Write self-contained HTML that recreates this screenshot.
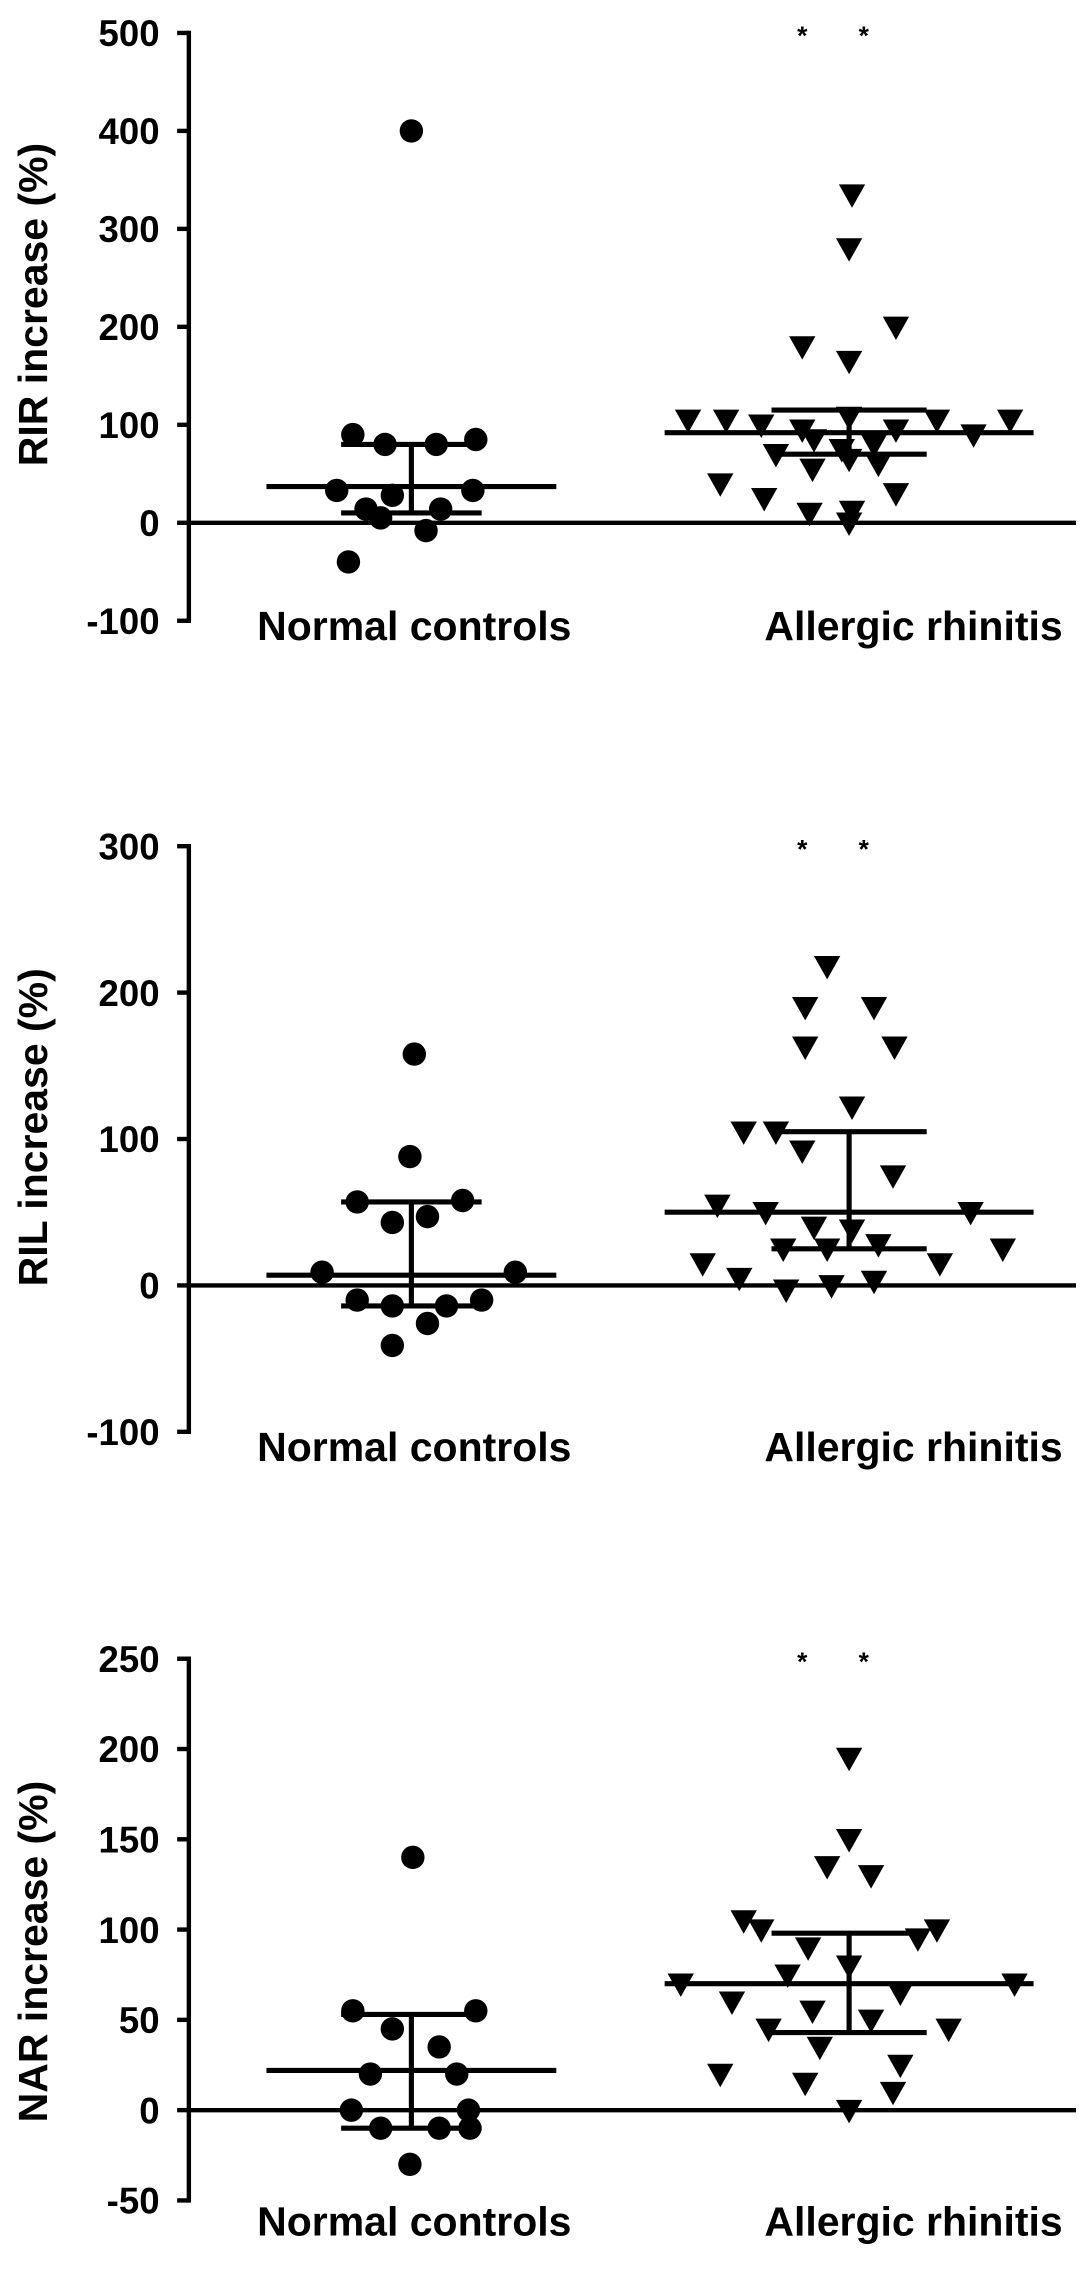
<!DOCTYPE html>
<html><head><meta charset="utf-8"><style>
html,body{margin:0;padding:0;background:#fff}
svg{display:block}
text{font-family:"Liberation Sans",Arial,sans-serif;font-weight:bold;fill:#000}
</style></head><body>
<svg id="chart" width="1087" height="2295" viewBox="0 0 742.5 1567.6" preserveAspectRatio="none" xmlns="http://www.w3.org/2000/svg"></svg>
<script>
// ---- Panel 1: RIR ----
const p1Ticks = [500, 400, 300, 200, 100, 0, -100];
const p1NormVals = [400, 90, 80, 80, 85, 33, 28, 33, 14, 14, -8, -40, 5];
const p1NormJit = [0, -40, -18, 17, 44, -51, -13, 42, -31, 20, 10, -43, -21];
const p1AllVals = [335, 280, 200, 180, 165, 105, 105, 108, 105, 105, 100, 95, 95, 90, 85, 80, 75, 70, 65, 60, 55, 40, 30, 25, 10, 12, 0];
const p1AllJit = [2, 0, 32, -32, 0, -110, -84, 0, 60, 110, -60, -32, 32, 85, -24, 17, -5, -50, 0, 20, -25, -88, 32, -58, -27, 2, 0];
const p1Stats = [37, 80, 10, 92, 115, 70];
// ---- Panel 2: RIL ----
const p2Ticks = [300, 200, 100, 0, -100];
const p2NormVals = [158, 88, 57, 58, 43, 47, 9, 9, -10, -14, -14, -10, -26, -41];
const p2NormJit = [2, -1, -37, 35, -13, 11, -61, 71, -37, -13, 24, 48, 11, -13];
const p2AllVals = [218, 190, 190, 163, 163, 122, 105, 92, 75, 55, 50, 40, 38, 50, 25, 25, 28, 25, 15, 15, 5, 3, -3, 0, 105];
const p2AllJit = [-15, -30, 17, -30, 31, 2, -72, -32, 30, -90, -57, -24, 2, 83, -45, -15, 20, 105, -100, 62, -75, 17, -43, -12, -50];
const p2Stats = [7, 57, -14, 50, 105, 25];
// ---- Panel 3: NAR ----
const p3Ticks = [250, 200, 150, 100, 50, 0, -50];
const p3NormVals = [140, 55, 55, 45, 35, 20, 20, 0, 0, -10, -10, -10, -30];
const p3NormJit = [1, -40, 44, -13, 19, -28, 31, -41, 39, -21, 19, 40, -1];
const p3AllVals = [195, 150, 135, 130, 105, 100, 100, 95, 90, 80, 75, 70, 70, 65, 60, 55, 50, 45, 45, 35, 25, 20, 15, 10, 0];
const p3AllJit = [0, 0, -15, 15, -72, -60, 60, 47, -28, 0, -42, -115, 113, 35, -80, -25, 15, -55, 68, -20, 35, -88, -30, 30, 0];
const p3Stats = [22, 53, -10, 70, 98, 43];

const panels = [
  {ticks:p1Ticks, norm:p1NormVals, nj:p1NormJit, all:p1AllVals, aj:p1AllJit, st:p1Stats, top:22.5, bot:424, title:"RIR increase (%)", titleY:208, labY:437, name:"rir"},
  {ticks:p2Ticks, norm:p2NormVals, nj:p2NormJit, all:p2AllVals, aj:p2AllJit, st:p2Stats, top:578, bot:978, title:"RIL increase (%)", titleY:770, labY:998, name:"ril"},
  {ticks:p3Ticks, norm:p3NormVals, nj:p3NormJit, all:p3AllVals, aj:p3AllJit, st:p3Stats, top:1133, bot:1503, title:"NAR increase (%)", titleY:1333, labY:1527, name:"nar"}
];
const NS = "http://www.w3.org/2000/svg";
const svg = document.getElementById("chart");
function mk(tag, attrs, parent) {
  const e = document.createElementNS(NS, tag);
  for (const k in attrs) e.setAttribute(k, attrs[k]);
  (parent || svg).appendChild(e);
  return e;
}
const AX = 129, XN = 281, XA = 580, XEND = 735;
panels.forEach(p => {
  const g = mk("g", {});
  
  
  const tmax = p.ticks[0], tmin = p.ticks[p.ticks.length - 1];
  const y = v => p.top + (tmax - v) / (tmax - tmin) * (p.bot - p.top);
  const ax = mk("line", {x1:AX, y1:p.top - 1.5, x2:AX, y2:p.bot + 1.5, stroke:"#000", "stroke-width":3}, g);
  
  
  p.ticks.forEach(t => {
    const tk = mk("line", {x1:AX - 8, y1:y(t), x2:AX, y2:y(t), stroke:"#000", "stroke-width":3}, g);
    
    
    const tl = mk("text", {x:AX - 20, y:y(t) + 9, "text-anchor":"end", "font-size":25}, g);
    tl.textContent = t;
    
    
  });
  const zl = mk("line", {x1:AX, y1:y(0), x2:XEND, y2:y(0), stroke:"#000", "stroke-width":3}, g);
  
  
  const tt = mk("text", {x:0, y:0, "text-anchor":"middle", "font-size":28, transform:"translate(32," + p.titleY + ") rotate(-90)"}, g);
  tt.textContent = p.title;
  
  
  const l1 = mk("text", {x:283, y:p.labY, "text-anchor":"middle", "font-size":28}, g);
  l1.textContent = "Normal controls";
  
  
  const l2 = mk("text", {x:624, y:p.labY, "text-anchor":"middle", "font-size":28}, g);
  l2.textContent = "Allergic rhinitis";
  
  
  [548, 590].forEach(sx => {
    const st = mk("text", {x:sx, y:p.top + 8, "text-anchor":"middle", "font-size":18}, g);
    st.textContent = "*";
    
    
  });
  p.norm.forEach((v, i) => {
    const c = mk("circle", {cx:XN + p.nj[i], cy:y(v), r:8, fill:"#000"}, g);
    
    
  });
  p.all.forEach((v, i) => {
    const cx = XA + p.aj[i], cy = y(v);
    const t = mk("polygon", {points:(cx-9)+","+(cy-7)+" "+(cx+9)+","+(cy-7)+" "+cx+","+(cy+9), fill:"#000"}, g);
    
    
  });
  [[XN, p.st[0], p.st[1], p.st[2], 99, 48], [XA, p.st[3], p.st[4], p.st[5], 126, 53]].forEach(s => {
    const [cx, m, hi, lo, mw, sw] = s;
    const parts = [[cx - mw, y(m), cx + mw, y(m), 'mean-line'], [cx - sw, y(hi), cx + sw, y(hi), 'sd-upper'], [cx - sw, y(lo), cx + sw, y(lo), 'sd-lower'], [cx, y(hi), cx, y(lo), 'sd-bar']];
    parts.forEach(q => {
      const ln = mk("line", {x1:q[0], y1:q[1], x2:q[2], y2:q[3], stroke:"#000", "stroke-width":3.5}, g);
      
      
    });
  });
});
</script>
</body></html>
